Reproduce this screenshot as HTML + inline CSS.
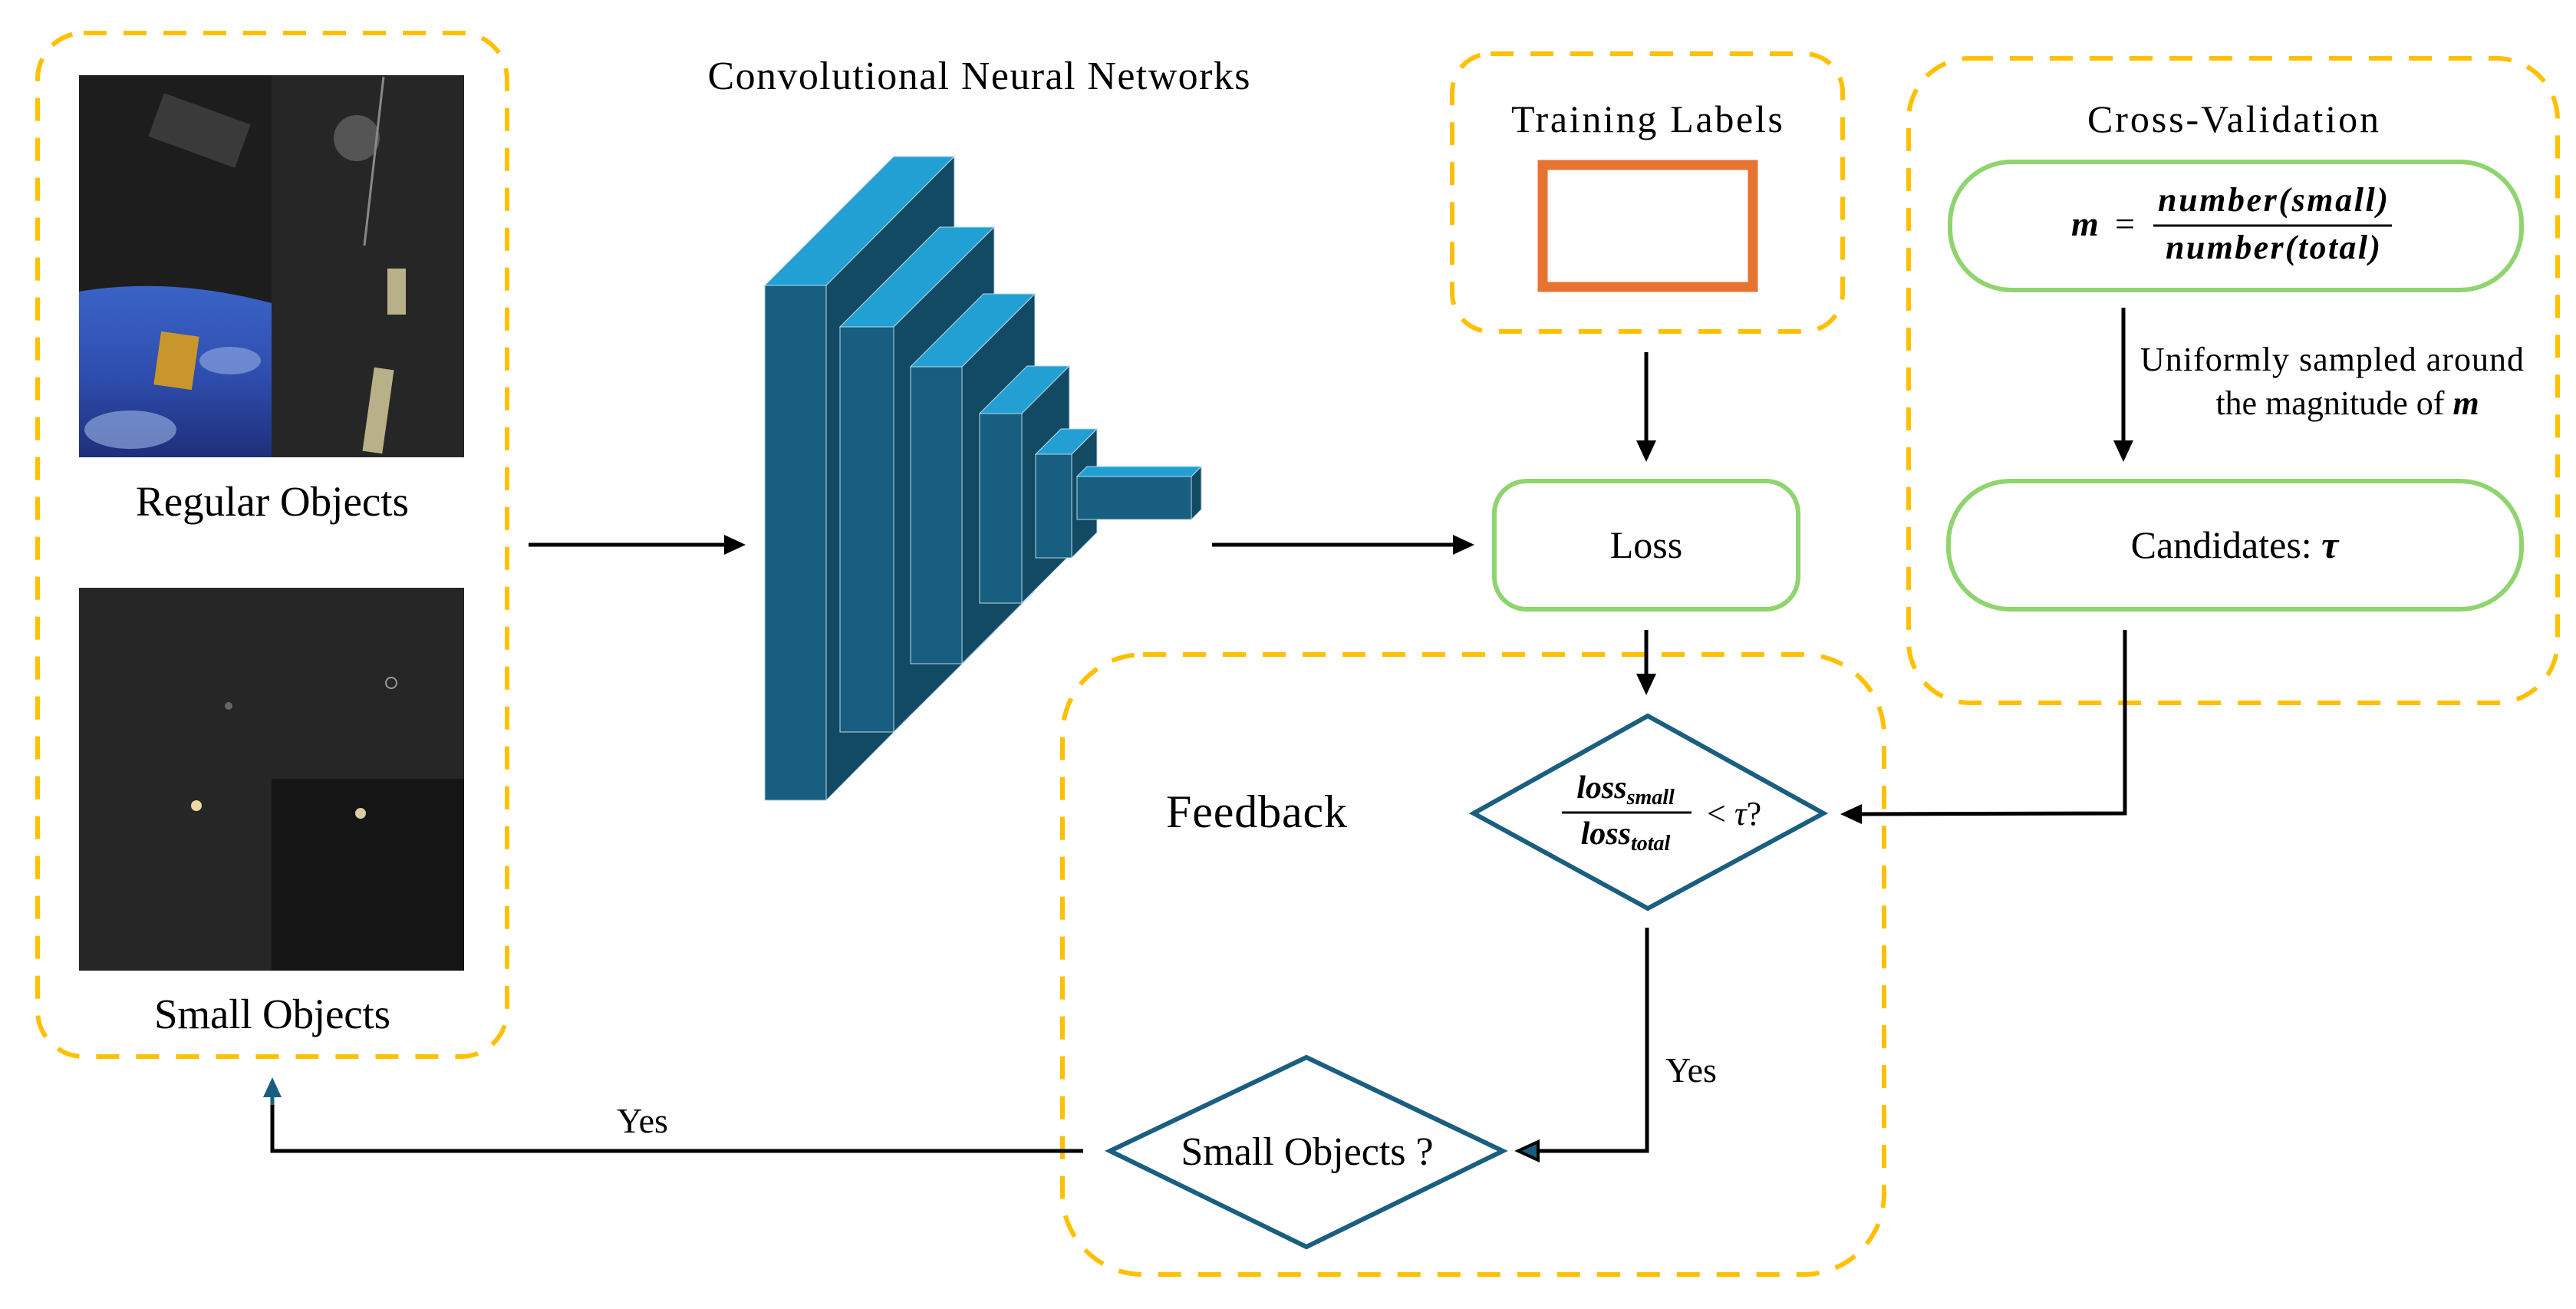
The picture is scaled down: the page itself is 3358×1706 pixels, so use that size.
<!DOCTYPE html>
<html><head><meta charset="utf-8"><style>
html,body{margin:0;padding:0;background:#fff;}
svg{display:block;}
text{font-family:"Liberation Serif",serif;fill:#000;}
</style></head><body>
<svg width="3358" height="1706" viewBox="0 0 3358 1706" xmlns="http://www.w3.org/2000/svg">
<defs>
<linearGradient id="earth" x1="0" y1="0" x2="0" y2="1">
<stop offset="0" stop-color="#3a63c6"/><stop offset="0.5" stop-color="#2f4fb0"/><stop offset="1" stop-color="#1e2f7a"/>
</linearGradient>
</defs>

<g fill="none" stroke="#FFC000" stroke-width="6" stroke-dasharray="30 22">
<rect x="49" y="43" width="612" height="1334" rx="60"/>
<rect x="1893" y="70" width="509" height="362" rx="50"/>
<rect x="2488" y="76" width="846" height="840" rx="80"/>
<rect x="1385" y="853" width="1071" height="808" rx="105"/>
</g>

<rect x="103" y="98" width="502" height="498" fill="#1d1d1d"/>
<rect x="354" y="98" width="251" height="498" fill="#262626"/>
<path d="M103 380 Q220 360 354 395 L354 596 L103 596 Z" fill="url(#earth)"/>
<ellipse cx="170" cy="560" rx="60" ry="25" fill="#9fb7e8" opacity="0.6"/>
<ellipse cx="300" cy="470" rx="40" ry="18" fill="#aac0ee" opacity="0.5"/>
<rect x="205" y="435" width="50" height="70" fill="#c9962c" transform="rotate(8 230 470)"/>
<rect x="200" y="140" width="120" height="60" fill="#3a3a3a" transform="rotate(20 260 170)"/>
<circle cx="465" cy="180" r="30" fill="#555"/>
<line x1="500" y1="100" x2="475" y2="320" stroke="#888" stroke-width="3"/>
<rect x="505" y="350" width="24" height="60" fill="#b8b088"/>
<rect x="480" y="480" width="26" height="110" fill="#b8b088" transform="rotate(8 493 535)"/>
<rect x="103" y="766" width="502" height="499" fill="#262626"/>
<rect x="354" y="1015" width="251" height="250" fill="#151515"/>
<circle cx="256" cy="1050" r="7" fill="#f0d9a0"/>
<circle cx="470" cy="1060" r="7" fill="#d8cca0"/>
<circle cx="510" cy="890" r="7" fill="none" stroke="#999" stroke-width="2"/>
<circle cx="298" cy="920" r="5" fill="#666"/>

<text x="355" y="672" font-size="55" text-anchor="middle" textLength="356">Regular Objects</text>
<text x="355" y="1340" font-size="55" text-anchor="middle" textLength="308">Small Objects</text>

<text x="1276" y="116" font-size="52" text-anchor="middle" textLength="707">Convolutional Neural Networks</text>

<g stroke="#b8d8e8" stroke-width="1">
<polygon points="997,372 1165,204 1244,204 1077,372" fill="#22a0d4"/>
<polygon points="1077,372 1244,204 1244,875 1077,1043" fill="#134a63"/>
<rect x="997" y="372" width="80" height="671" fill="#175e80"/>
<polygon points="1095,426 1225,296 1296,296 1165,426" fill="#22a0d4"/>
<polygon points="1165,426 1296,296 1296,824 1165,954" fill="#134a63"/>
<rect x="1095" y="426" width="70" height="528" fill="#175e80"/>
<polygon points="1187,478 1282,383 1349,383 1254,478" fill="#22a0d4"/>
<polygon points="1254,478 1349,383 1349,770 1254,865" fill="#134a63"/>
<rect x="1187" y="478" width="67" height="387" fill="#175e80"/>
<polygon points="1277,539 1339,477 1394,477 1332,539" fill="#22a0d4"/>
<polygon points="1332,539 1394,477 1394,724 1332,786" fill="#134a63"/>
<rect x="1277" y="539" width="55" height="247" fill="#175e80"/>
<polygon points="1350,592 1383,559 1430,559 1397,592" fill="#22a0d4"/>
<polygon points="1397,592 1430,559 1430,694 1397,727" fill="#134a63"/>
<rect x="1350" y="592" width="47" height="135" fill="#175e80"/>
<polygon points="1404,621 1417,608 1566,608 1553,621" fill="#22a0d4"/>
<polygon points="1553,621 1566,608 1566,664 1553,677" fill="#134a63"/>
<rect x="1404" y="621" width="149" height="56" fill="#175e80"/>
</g>

<g stroke="#000" stroke-width="5" fill="none">
<line x1="689" y1="710" x2="945" y2="710"/>
<line x1="1580" y1="710" x2="1895" y2="710"/>
<line x1="2146" y1="459" x2="2146" y2="575"/>
<line x1="2146" y1="821" x2="2146" y2="880"/>
<line x1="2768" y1="401" x2="2768" y2="575"/>
<polyline points="2770,821 2770,1060 2425,1061"/>
<polyline points="2147,1209 2147,1500 2003,1500"/>
<polyline points="1412,1500 355,1500 355,1430"/>
</g>
<g fill="#000">
<polygon points="972,710 944,697 944,723"/>
<polygon points="1922,710 1894,697 1894,723"/>
<polygon points="2146,602 2133,574 2159,574"/>
<polygon points="2146,906 2133,878 2159,878"/>
<polygon points="2768,602 2755,574 2781,574"/>
<polygon points="2399,1061 2427,1048 2427,1074"/>
</g>
<polygon points="1979,1500 2005,1488 2005,1512" fill="#175e80" stroke="#000" stroke-width="4"/>
<line x1="355" y1="1440" x2="355" y2="1420" stroke="#175e80" stroke-width="5"/>
<polygon points="355,1404 343,1430 367,1430" fill="#175e80"/>

<rect x="2011" y="215" width="274" height="159" fill="none" stroke="#E87331" stroke-width="13"/>
<text x="2147" y="172" font-size="50" text-anchor="middle" textLength="354">Training Labels</text>

<g fill="none" stroke="#8FD46E" stroke-width="6">
<rect x="1948" y="627" width="396" height="167" rx="42"/>
<rect x="2542" y="211" width="745" height="167" rx="80"/>
<rect x="2540" y="627" width="747" height="167" rx="80"/>
</g>
<text x="2146" y="727" font-size="50" text-anchor="middle">Loss</text>
<text x="2911" y="172" font-size="50" text-anchor="middle" textLength="380">Cross-Validation</text>

<text x="2700" y="307" font-size="46" font-style="italic" font-weight="bold">m</text>
<text x="2757" y="307" font-size="46">=</text>
<text x="2963" y="275" font-size="44" font-style="italic" font-weight="bold" text-anchor="middle" textLength="300">number(small)</text>
<line x1="2807" y1="294" x2="3118" y2="294" stroke="#000" stroke-width="3"/>
<text x="2963" y="337" font-size="44" font-style="italic" font-weight="bold" text-anchor="middle" textLength="280">number(total)</text>

<text x="2790" y="483" font-size="44" textLength="500">Uniformly sampled around</text>
<text x="3060" y="540" font-size="44" text-anchor="middle">the magnitude of <tspan font-style="italic" font-weight="bold">m</tspan></text>

<text x="2913" y="727" font-size="50" text-anchor="middle">Candidates:  <tspan font-style="italic" font-weight="bold">τ</tspan></text>

<polygon points="1921,1060 2148,933 2377,1060 2148,1184" fill="#fff" stroke="#1A5E80" stroke-width="6"/>
<text x="2119" y="1040" font-size="42" font-style="italic" font-weight="bold" text-anchor="middle">loss<tspan font-size="28" dy="8">small</tspan></text>
<line x1="2036" y1="1059" x2="2205" y2="1059" stroke="#000" stroke-width="3"/>
<text x="2119" y="1100" font-size="42" font-style="italic" font-weight="bold" text-anchor="middle">loss<tspan font-size="28" dy="8">total</tspan></text>
<text x="2225" y="1075" font-size="44">&lt; <tspan font-style="italic">τ</tspan>?</text>

<polygon points="1447,1500 1703,1378 1959,1500 1703,1625" fill="#fff" stroke="#1A5E80" stroke-width="6"/>
<text x="1704" y="1518" font-size="52" text-anchor="middle">Small Objects ?</text>

<text x="1520" y="1078" font-size="60" textLength="236">Feedback</text>
<text x="2171" y="1410" font-size="46">Yes</text>
<text x="804" y="1476" font-size="46">Yes</text>
</svg>
</body></html>
